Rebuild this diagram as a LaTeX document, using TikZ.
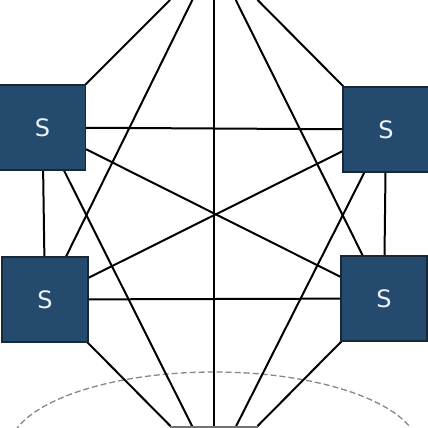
\documentclass[tikz,border=0pt]{standalone}
\usepackage{fontspec}
\setmainfont{DejaVu Sans}
\usetikzlibrary{backgrounds}
\definecolor{sfill}{RGB}{36,75,109}
\definecolor{sline}{RGB}{25,40,55}
\definecolor{stext}{RGB}{236,242,248}
\definecolor{gline}{RGB}{115,115,115}
\definecolor{dashc}{RGB}{135,135,135}
\begin{document}
\begin{tikzpicture}[x=1pt,y=-1pt,
  sbox/.style={draw=sline, line width=1.1pt, fill=sfill, minimum width=86pt,
    minimum height=85pt, inner sep=0pt, text=stext, font=\fontsize{24}{24}\selectfont},
  gbox/.style={draw=gline, line width=1.8pt, fill=white,
    minimum width=86pt, minimum height=86pt, inner sep=0pt},
  link/.style={line width=2pt, black}]
\useasboundingbox (0,0) rectangle (428,428);
\clip (0,0) rectangle (428,428);
\node[gbox] (T) at (214,-44) {};
\node[gbox] (B) at (214,470) {};
\node[sbox] (TL) at (42.5,127.5) {S};
\node[sbox] (TR) at (386,129.5) {S};
\node[sbox] (BL) at (45,299.5) {S};
\node[sbox] (BR) at (384,298.5) {S};
\begin{scope}[on background layer]
\draw[dash pattern=on 6pt off 3pt, line width=1.3pt, dashc]
  (214,450) ellipse [x radius=205pt, y radius=78pt];
\foreach \a/\b in {T/TL,T/TR,T/BL,T/BR,T/B,B/TL,B/TR,B/BL,B/BR,TL/TR,TL/BL,TL/BR,TR/BL,TR/BR,BL/BR}
  \draw[link] (\a) -- (\b);
\end{scope}
\end{tikzpicture}
\end{document}
